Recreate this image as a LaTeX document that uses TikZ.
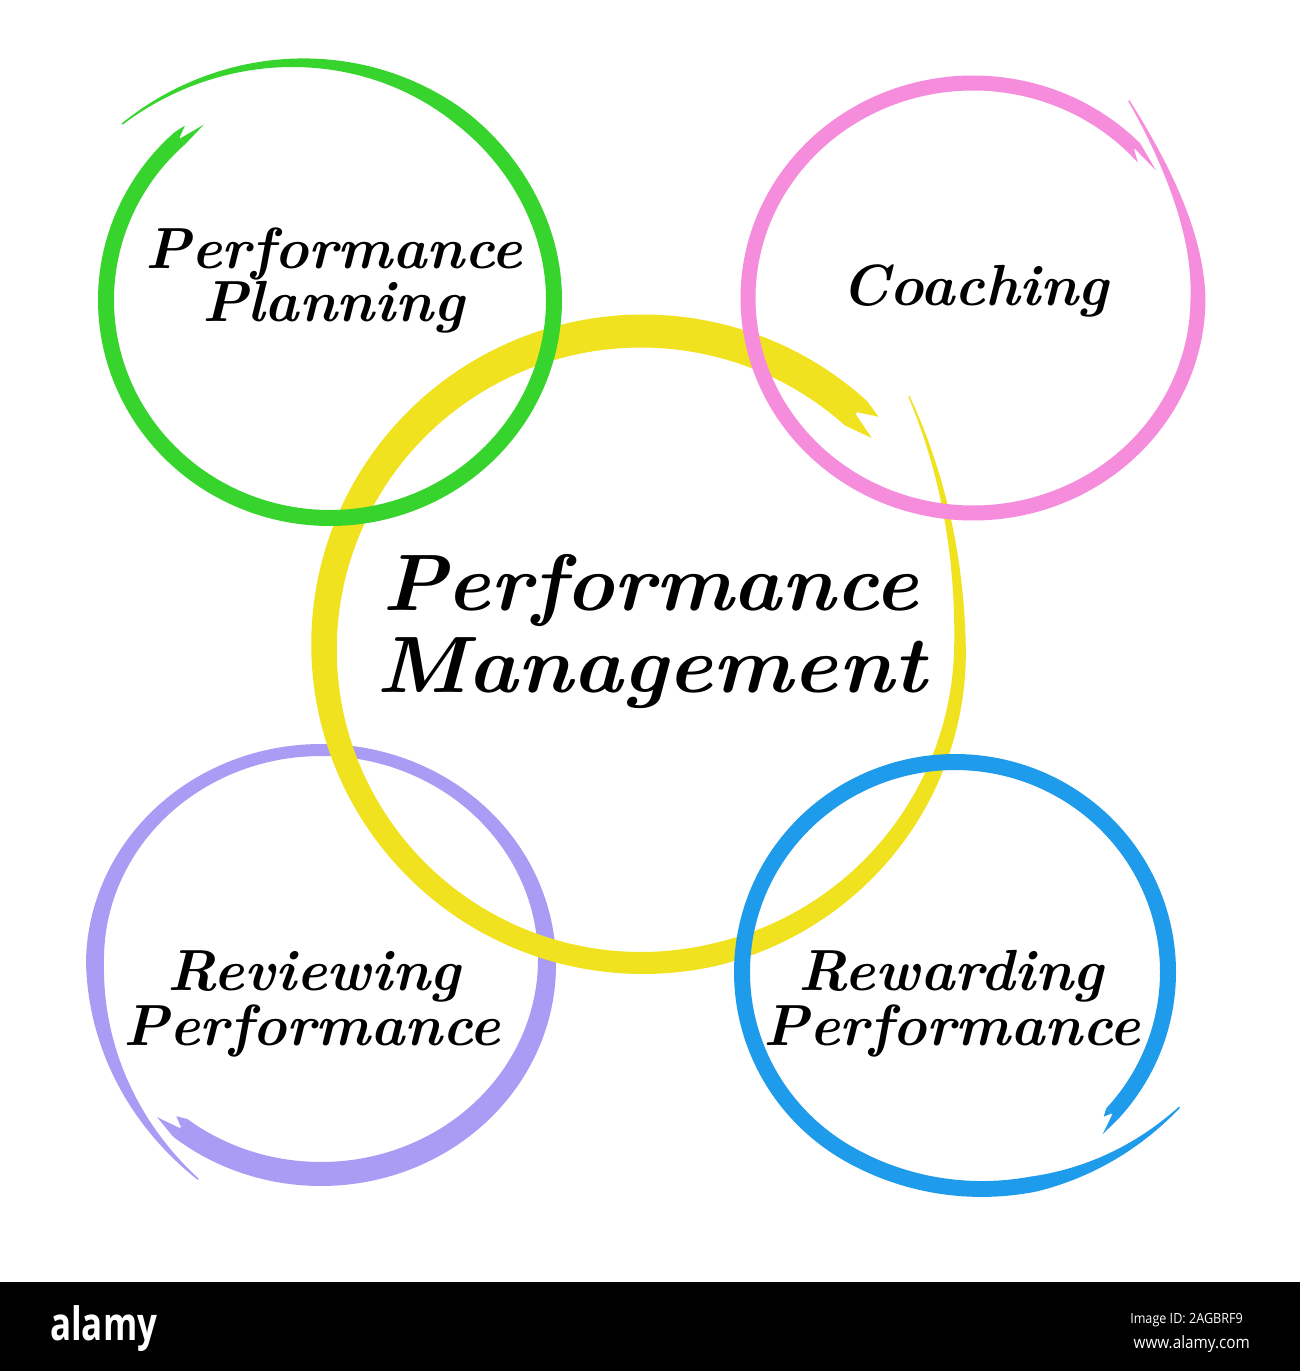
\documentclass[tikz,border=0pt]{standalone}
\usepackage{fontspec}
\newfontfamily\wmfont{Open Sans}
\definecolor{cgreen}{RGB}{54,212,44}
\definecolor{cpink}{RGB}{245,140,220}
\definecolor{cyellow}{RGB}{240,226,30}
\definecolor{cpurple}{RGB}{170,155,245}
\definecolor{cblue}{RGB}{30,155,235}
% ring parameters
\def\Pcx{0}\def\Pcy{0}\def\PRx{1}\def\PRy{1}
\def\Pta{0}\def\Ptc{1}\def\Ptr{0}\def\Ptw{0}
\def\PfE{1}\def\Pa{1}\def\Pb{0}
\def\PW{10}\def\PWs{0}\def\PWc{0}\def\Pwmin{1.5}
\newcommand\setring[9]{\def\Pcx{#1}\def\Pcy{#2}\def\PRx{#3}\def\PRy{#4}\def\Pta{#5}\def\Ptc{#6}\def\Ptr{#7}\def\Ptw{#8}\def\PfE{#9}}
\newcommand\setwidth[6]{\def\Pa{#1}\def\Pb{#2}\def\PW{#3}\def\PWs{#4}\def\PWc{#5}\def\Pwmin{#6}}
\newcommand\drawring[6]{%
  \fill[#1] plot[domain=\Pta:\Ptc, samples=360] ({px(\x,1)},{py(\x,1)})
     -- plot[domain=\Ptc:\Pta, samples=360] ({px(\x,-1)},{py(\x,-1)}) -- cycle;
  \fill[#1] ({px(\Pta,1)},{py(\Pta,1)})
     -- ({px(\Pta-#2,#3)},{py(\Pta-#2,#3)})
     -- ({px(\Pta+#6,0)},{py(\Pta+#6,0)})
     -- ({px(\Pta-#4,#5)},{py(\Pta-#4,#5)})
     -- ({px(\Pta,-1)},{py(\Pta,-1)}) -- cycle;
}
\begin{document}
\begin{tikzpicture}[x=1pt,y=1pt,
  declare function={
    uu(\t)=max(0,min(1,(\t-\Ptr)/(\Ptc-\Ptr)));
    vv(\t)=max(0,min(1,(\t-\Ptw)/(\Ptc-\Ptw)));
    ff(\t)=1+(\PfE-1)*(\Pa*uu(\t)+\Pb*uu(\t)*uu(\t)+(1-\Pa-\Pb)*uu(\t)*uu(\t)*uu(\t));
    ww(\t)=\Pwmin+(\PW+\PWs*sin(\t)+\PWc*cos(\t)-\Pwmin)*(1-vv(\t));
    px(\t,\k)=\Pcx+(\PRx*ff(\t)+\k*ww(\t)/2)*cos(\t);
    py(\t,\k)=\Pcy+(\PRy*ff(\t)+\k*ww(\t)/2)*sin(\t);
  },
  lbl/.style={font=\fontsize{58}{60}\selectfont\bfseries\itshape, xscale=1.0, inner sep=0pt, anchor=base, text=black},
  biglbl/.style={font=\fontsize{80}{82}\selectfont\bfseries\itshape, xscale=1.03, inner sep=0pt, anchor=base, text=black},
  wm/.style={inner sep=0pt, text=white}
]
\useasboundingbox (0,0) rectangle (1300,-1371);
\fill[white] (0,0) rectangle (1300,-1371);

% purple (below yellow)
\setring{321}{-962}{226}{212}{-128.5}{242.1}{180}{180}{1.16}
\setwidth{0}{1}{18}{-6}{0}{1.5}
\drawring{cpurple}{6.3}{0.6}{2.8}{-0.6}{0.5}

% yellow
\setring{642}{-647}{318}{316}{-312.3}{43.4}{0}{-77}{1.155}
\setwidth{0}{1}{27.5}{5.5}{2}{1.5}
\drawring{cyellow}{3.3}{0.8}{5.2}{-0.4}{0.5}

% green
\setring{330}{-300}{224}{218}{132}{499}{380}{415}{1.23}
\setwidth{0}{1}{16}{0}{0}{1.5}
\drawring{cgreen}{3}{0.8}{7}{-0.5}{0.5}

% pink
\setring{973}{-298}{225}{215}{-316}{53}{0}{0}{1.15}
\setwidth{0}{0}{15}{0}{0}{1.5}
\drawring{cpink}{8}{0.2}{3.3}{-1}{0.5}

% blue
\setring{955}{-972}{213}{210}{-402.5}{-31.4}{-120}{-70}{1.235}
\setwidth{0}{1}{16}{0}{0}{1.5}
\drawring{cblue}{5.6}{1}{2.1}{-0.5}{0.5}

% labels
\node[lbl] (pp1) at (334,-268) {Performance};
\node[lbl] (pp2) at (333,-321) {Planning};
\node[lbl] (co) at (975,-305) {Coaching};
\node[biglbl] (pm1) at (650,-610) {Performance};
\node[biglbl, xscale=1.03] (pm2) at (651,-692) {Management};
\node[lbl] (rv1) at (314,-990) {Reviewing};
\node[lbl] (rv2) at (312,-1045) {Performance};
\node[lbl] (rw1) at (951,-990) {Rewarding};
\node[lbl] (rw2) at (952,-1045) {Performance};

% watermark bar
\fill[black] (0,-1282) rectangle (1300,-1371);
\node[wm, anchor=base west, font=\wmfont\bfseries\fontsize{46}{48}\selectfont, xscale=0.76] (alamy) at (50,-1340) {alamy};
\node[wm, anchor=base east, font=\wmfont\fontsize{14}{16}\selectfont, xscale=0.9] (imgid) at (1243,-1323) {Image ID: 2AGBRF9};
\node[wm, anchor=base east, font=\wmfont\fontsize{17}{19}\selectfont, xscale=0.9] (www) at (1250,-1348) {www.alamy.com};
\end{tikzpicture}
\end{document}
